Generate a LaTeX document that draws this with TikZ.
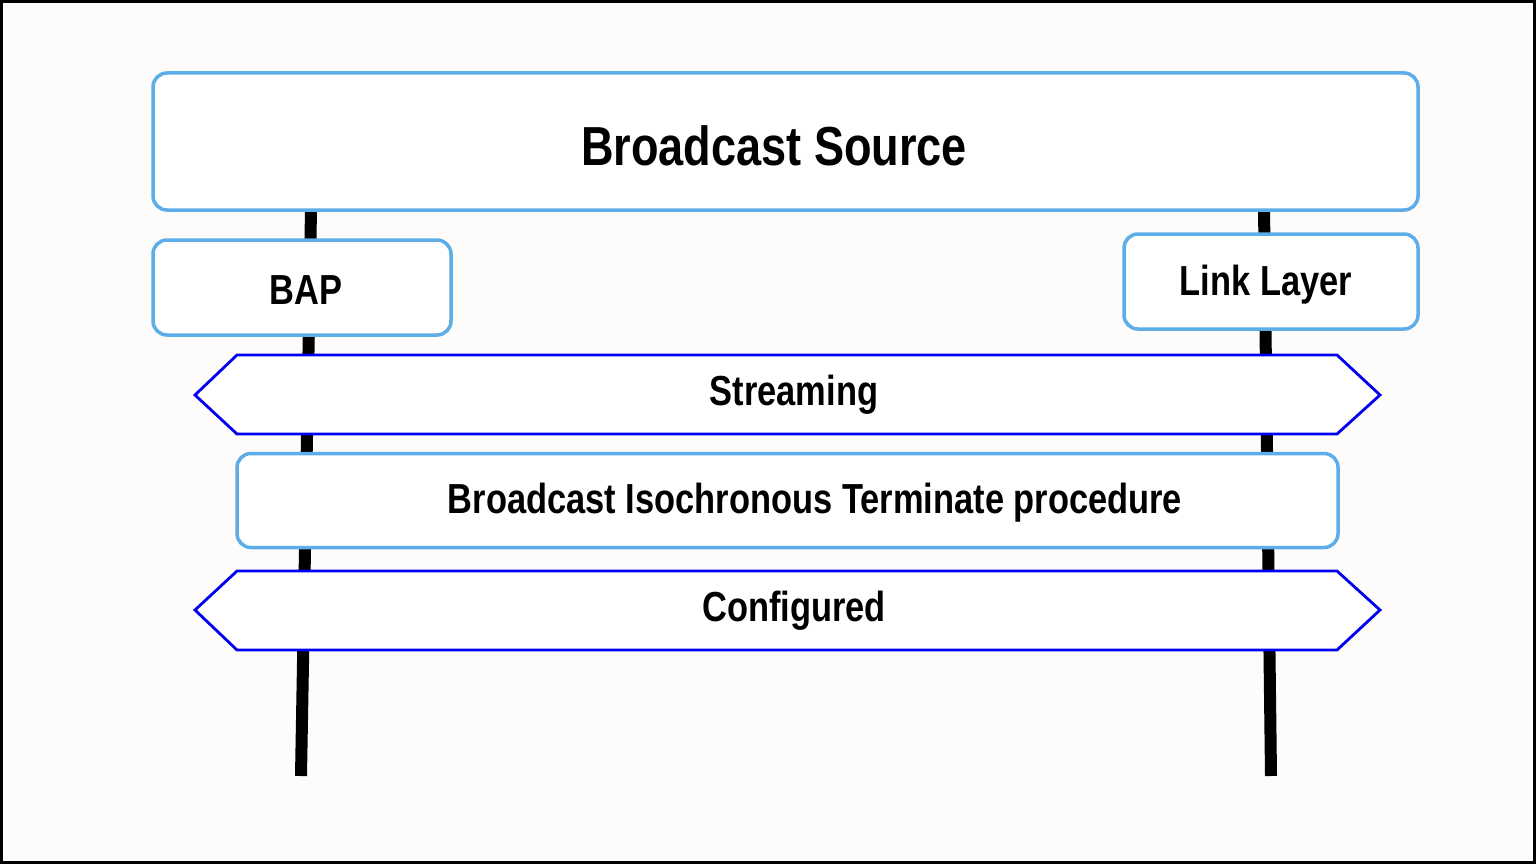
\documentclass[tikz,border=0pt]{standalone}
\usepackage{fontspec}
\setmainfont{Liberation Sans}[FakeStretch=0.82]
\definecolor{boxblue}{HTML}{5DADE8}
\definecolor{statblue}{HTML}{0000EE}
\definecolor{bgc}{HTML}{FDFCFB}
\begin{document}
\begin{tikzpicture}[x=1pt,y=-1pt,
  box/.style={draw=boxblue, line width=3.5, rounded corners=14, fill=white, inner sep=0},
  state/.style={draw=statblue, line width=2.8, fill=white},
  lbl/.style={font=\bfseries\fontsize{42}{46}\selectfont, inner sep=0},
  bigl/.style={font=\bfseries\fontsize{55}{60}\selectfont, inner sep=0},
  life/.style={line width=12, black}]
\useasboundingbox (0,0) rectangle (1536,864);
\fill[bgc] (0,0) rectangle (1536,864);
\draw[line width=3] (1.5,1.5) rectangle (1534.5,862.5);
% lifelines
\coordinate (lt) at (311,210);
\coordinate (lb) at (301,776);
\coordinate (rt) at (1264,208);
\coordinate (rb) at (1271,776);
\draw[life] (lt) -- (lb);
\draw[life] (rt) -- (rb);
% boxes
\node[box, minimum width=1265, minimum height=137] (src) at (785.5,141.5) {};
\node[bigl] at (774,146) {Broadcast Source};
\node[box, minimum width=298, minimum height=95] (bap) at (302,287.5) {};
\node[lbl] at (306,290) {BAP};
\node[box, minimum width=294, minimum height=95] (ll) at (1271,281.5) {};
\node[lbl] at (1266,285) {Link Layer};
% streaming
\draw[state] (195,395) -- (237,355) -- (1337,355) -- (1380,395) -- (1337,434) -- (237,434) -- cycle;
\node[lbl] (stream) at (794,395) {Streaming};
% terminate
\node[box, minimum width=1101, minimum height=94] (bit) at (787.5,500.5) {};
\node[lbl] at (815,503) {Broadcast Isochronous Terminate procedure};
% configured
\draw[state] (195,610) -- (237,571) -- (1337,571) -- (1380,610) -- (1337,650) -- (237,650) -- cycle;
\node[lbl] (conf) at (794,611) {Configured};
\end{tikzpicture}
\end{document}
